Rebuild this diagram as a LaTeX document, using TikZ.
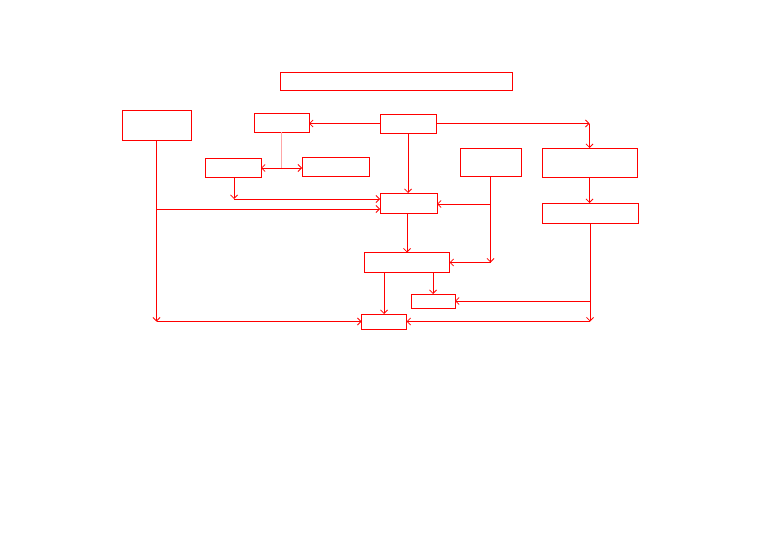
\documentclass[tikz,border=0pt]{standalone}
\usetikzlibrary{arrows.meta}
\begin{document}
\begin{tikzpicture}[x=1pt,y=-1pt,
  box/.style={draw=red, line width=0.9pt, inner sep=0pt, outer sep=0pt},
  conn/.style={draw=red, line width=0.8pt},
  arr/.style={conn, -{Straight Barb[length=3.5pt,width=7pt]}},
  faint/.style={draw=red!35, line width=0.8pt}]
\useasboundingbox (0,0) rectangle (768,543);
\node[box, minimum width=232pt, minimum height=18pt] (T) at (396,81) {};
\node[box, minimum width=69pt, minimum height=30pt] (A) at (156.5,125) {};
\node[box, minimum width=55pt, minimum height=19pt] (B) at (281.5,122.5) {};
\node[box, minimum width=56pt, minimum height=19pt] (C) at (408,123.5) {};
\node[box, minimum width=56pt, minimum height=19pt] (D) at (233,168) {};
\node[box, minimum width=67pt, minimum height=19pt] (E) at (335.5,167) {};
\node[box, minimum width=57pt, minimum height=20pt] (F) at (408.5,203) {};
\node[box, minimum width=61pt, minimum height=28pt] (G) at (490.5,162) {};
\node[box, minimum width=95pt, minimum height=29pt] (H) at (589.5,162.5) {};
\node[box, minimum width=96pt, minimum height=20pt] (I) at (590,213) {};
\node[box, minimum width=85pt, minimum height=20pt] (J) at (407,262.5) {};
\node[box, minimum width=44pt, minimum height=14pt] (K) at (433,301) {};
\node[box, minimum width=45pt, minimum height=15pt] (L) at (384,321.5) {};
% C -> B
\draw[arr] (C.west) -- (C.west -| B.east);
% C -> H
\coordinate (c1) at (H.north |- C.east);
\draw[arr] (C.east) -- (c1);
\draw[arr] (c1) -- (H.north);
% C -> F
\draw[arr] (C.south) -- (C.south |- F.north);
% B -> D, E
\coordinate (b1) at (B.south |- D.east);
\draw[faint] (B.south) -- (b1);
\draw[arr] (b1) -- (D.east);
\draw[arr] (b1) -- (b1 -| E.west);
% D -> F
\coordinate (d1) at (234,199);
\draw[arr] (D.south -| d1) -- (d1);
\draw[arr] (d1) -- (d1 -| F.west);
% A -> L, F
\coordinate (a1) at (A.south |- L.west);
\coordinate (a2) at (156.5,209);
\draw[arr] (A.south) -- (a1);
\draw[arr] (a1) -- (L.west);
\draw[arr] (a2) -- (a2 -| F.west);
% G -> J, F
\coordinate (g1) at (G.south |- J.east);
\coordinate (g2) at (490.5,204);
\draw[arr] (G.south) -- (g1);
\draw[arr] (g1) -- (J.east);
\draw[arr] (g2) -- (g2 -| F.east);
% F -> J
\draw[arr] (F.south -| J.north) -- (J.north);
% J -> L, K
\draw[arr] (L.north |- J.south) -- (L.north);
\draw[arr] (K.north |- J.south) -- (K.north);
% H -> I
\draw[arr] (H.south) -- (H.south |- I.north);
% I -> L, K
\coordinate (i1) at (I.south |- L.east);
\coordinate (i2) at (590,301);
\draw[arr] (I.south) -- (i1);
\draw[arr] (i1) -- (L.east);
\draw[arr] (i2) -- (K.east);
\end{tikzpicture}
\end{document}
